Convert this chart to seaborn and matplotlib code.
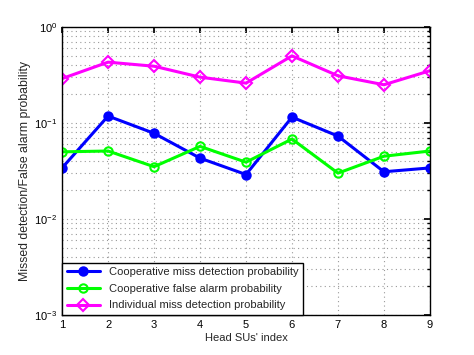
import matplotlib
matplotlib.use("Agg")
import matplotlib.pyplot as plt
import seaborn as sns
import pandas as pd
import numpy as np
from matplotlib.ticker import LogLocator, NullFormatter

sns.set_theme(style="white")
plt.rcParams['font.family'] = ['Liberation Sans', 'DejaVu Sans']

heads = [1, 2, 3, 4, 5, 6, 7, 8, 9]
coop_miss = [0.034, 0.118, 0.078, 0.043, 0.029, 0.115, 0.073, 0.031, 0.034]
coop_fa = [0.050, 0.051, 0.035, 0.057, 0.039, 0.068, 0.030, 0.045, 0.051]
indiv_miss = [0.29, 0.43, 0.39, 0.30, 0.26, 0.50, 0.31, 0.25, 0.35]
labels = ["Cooperative miss detection probability",
          "Cooperative false alarm probability",
          "Individual miss detection probability"]

fig = plt.figure(figsize=(4.74, 3.55), dpi=100)
ax = fig.add_axes([0.131, 0.113, 0.776, 0.811])

series = [(coop_miss, "#0000ff", "o", True),
          (coop_fa, "#00ff00", "o", False),
          (indiv_miss, "#ff00ff", "D", False)]
for (vals, col, mk, filled), lab in zip(series, labels):
    df = pd.DataFrame({"x": heads, "y": vals})
    sns.lineplot(data=df, x="x", y="y", ax=ax, color=col, lw=2.2,
                 marker=mk, markersize=6,
                 markerfacecolor=col if filled else "none",
                 markeredgecolor=col, markeredgewidth=1.5, label=lab)

ax.set_yscale("log")
ax.set_ylim(1e-3, 1)
ax.set_xlim(1, 9)
ax.set_xticks(heads)
ax.yaxis.set_major_locator(LogLocator(base=10, numticks=10))
ax.yaxis.set_minor_locator(LogLocator(base=10, subs=np.arange(2, 10), numticks=10))
ax.yaxis.set_minor_formatter(NullFormatter())
gstyle = dict(linestyle=(0, (1, 3)), color="#999999", lw=0.8)
ax.grid(True, which="major", axis="both", **gstyle)
ax.grid(True, which="minor", axis="y", **gstyle)
ax.tick_params(which="both", direction="in", top=True, right=True, labelsize=8, colors="black")
ax.tick_params(which="major", length=4)
ax.tick_params(which="minor", length=2)
for s in ax.spines.values():
    s.set_color("black")
    s.set_linewidth(1.0)
ax.set_xlabel("Head SUs' index", fontsize=8, labelpad=2)
ax.set_ylabel("Missed detection/False alarm probability", fontsize=8.8, labelpad=2)

leg = ax.legend(loc="lower left", fontsize=8, frameon=True, fancybox=False,
                edgecolor="black", framealpha=1, borderaxespad=0.0,
                handlelength=3, borderpad=0.4, labelspacing=0.6)
leg.get_frame().set_linewidth(1.0)

fig.savefig("out.png", dpi=100)
